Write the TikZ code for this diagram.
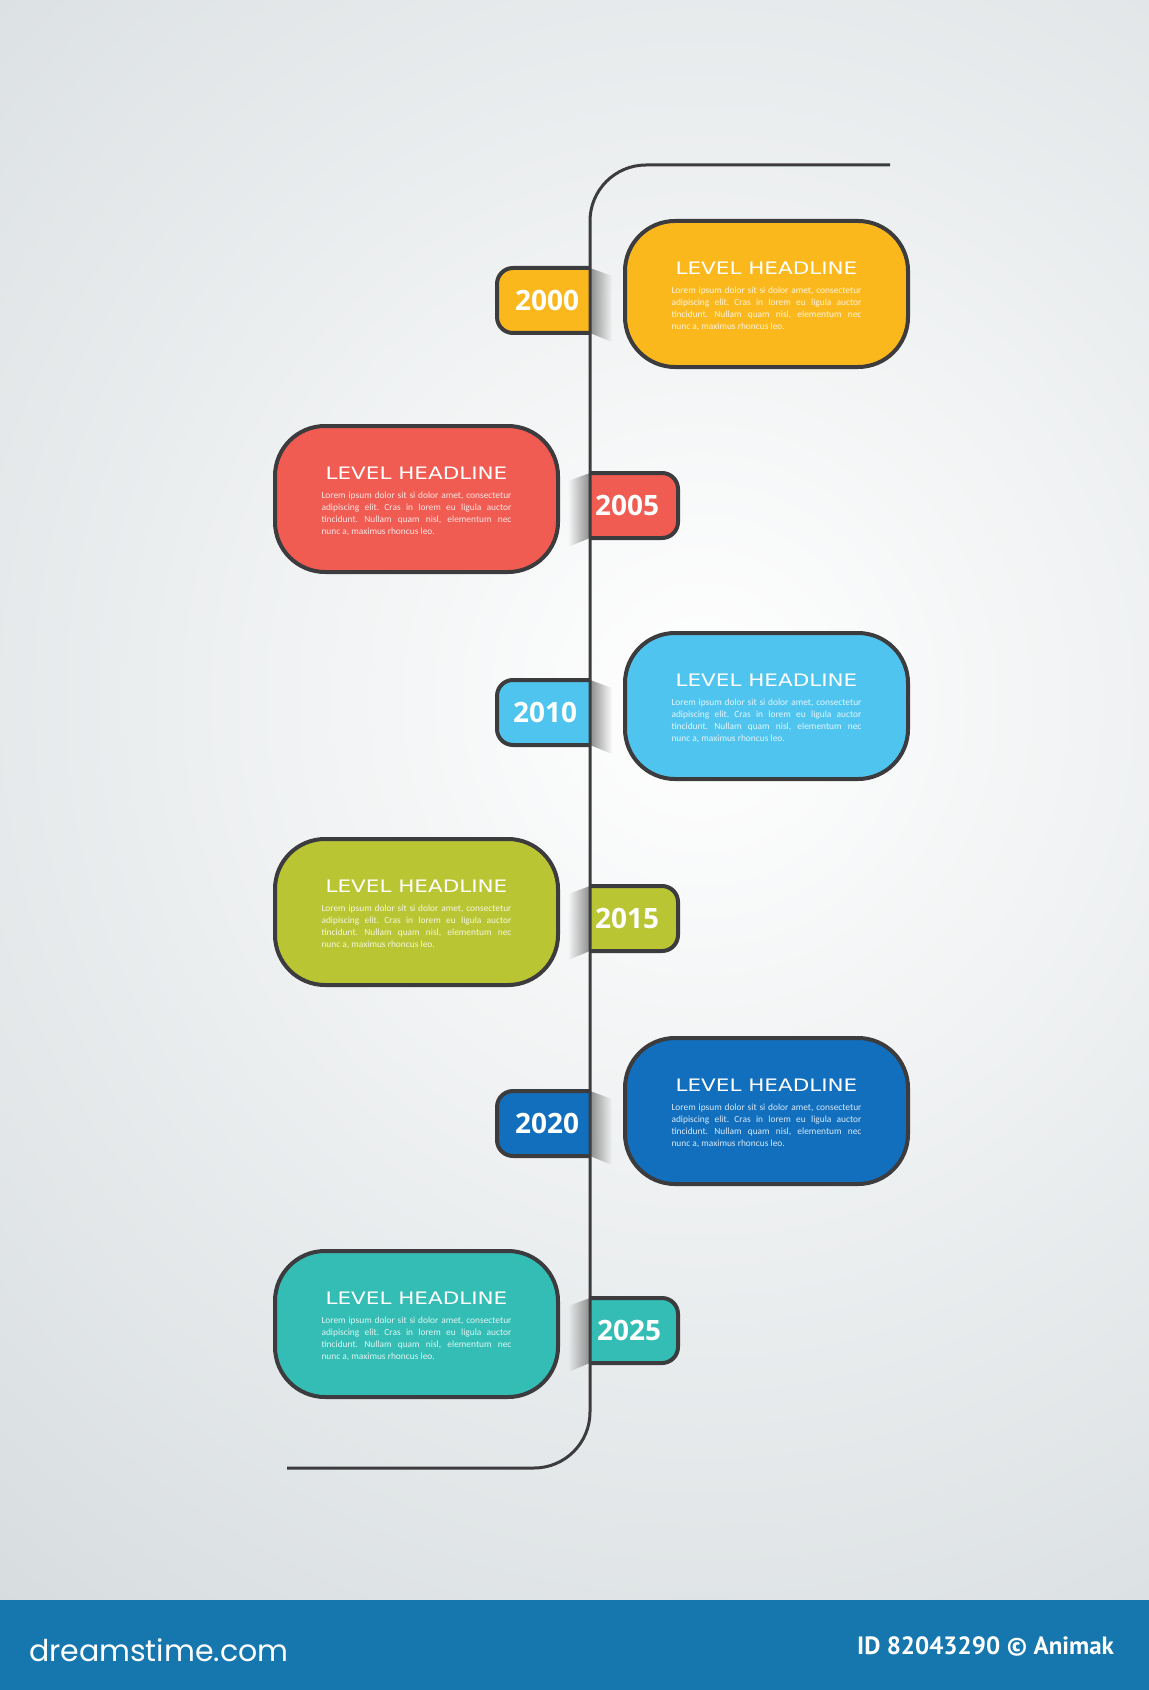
\documentclass[tikz,border=0pt]{standalone}
\usepackage{fontspec}
\usetikzlibrary{fadings}

\newfontfamily\headfont{DejaVu Sans}[FakeStretch=1.25]
\newfontfamily\yearfont{Open Sans}
\newfontfamily\bodyfont{Carlito}
\newfontfamily\sitefont{Poppins}
\newfontfamily\creditfont{PT Sans}

\definecolor{bgedge}{HTML}{CDD4D7}
\definecolor{outline}{HTML}{3C3B3D}
\definecolor{cyellow}{HTML}{FBB81D}
\definecolor{cred}{HTML}{F05B52}
\definecolor{clight}{HTML}{4FC4EF}
\definecolor{colive}{HTML}{BAC533}
\definecolor{cblue}{HTML}{116FBE}
\definecolor{cteal}{HTML}{33BDB4}
\definecolor{barblue}{HTML}{1677AE}

\newcommand{\loremtext}{\frenchspacing Lorem ipsum dolor sit si dolor amet, consectetur\linebreak adipiscing elit. Cras in lorem eu ligula auctor\linebreak tincidunt. Nullam quam nisl, elementum nec\linebreak nunc a, maximus rhoncus leo.}

\tikzset{
  box/.style={draw=outline, line width=2pt, rounded corners=25pt, minimum width=141.5pt, minimum height=73pt, inner sep=0pt},
  headline/.style={text=white, font=\headfont\fontsize{8.6}{10}\selectfont, inner sep=0pt},
  lorem/.style={text=white, text opacity=0.85, text width=95pt, align=justify, font=\bodyfont\fontsize{4.7}{6}\selectfont, inner sep=0pt},
  year/.style={text=white, font=\yearfont\bfseries\fontsize{14}{16}\selectfont, inner sep=0pt},
  tab/.style={draw=outline, line width=2pt, rounded corners=8pt},
  fold/.style={fill=black!45, path fading=east},
  foldleft/.style={fill=black!45, path fading=west},
  spine/.style={draw=outline, line width=1.5pt, rounded corners=28pt}
}

\begin{document}
\begin{tikzpicture}[x=0.5pt,y=-0.5pt]
                \useasboundingbox (0,0) rectangle (1149,1690);
                % background
                \begin{scope}
                    \clip (0,0) rectangle (1149,1600);
                    \shade[inner color=white, outer color=bgedge] (-700,-750) rectangle (2100,2150);
                \end{scope}
                \fill[barblue] (0,1600) rectangle (1149,1690);

                % fold shadows
                \fill[fold] (590,268) -- (612,276) -- (612,342) -- (590,333) -- cycle;
                \fill[foldleft] (590,473) -- (568,481) -- (568,547) -- (590,538) -- cycle;
                \fill[fold] (590,680) -- (612,688) -- (612,754) -- (590,745) -- cycle;
                \fill[foldleft] (590,886) -- (568,894) -- (568,960) -- (590,951) -- cycle;
                \fill[fold] (590,1091) -- (612,1099) -- (612,1165) -- (590,1156) -- cycle;
                \fill[foldleft] (590,1298) -- (568,1306) -- (568,1372) -- (590,1363) -- cycle;

                % year tabs
                \filldraw[tab, fill=cyellow] (590,268) -- (497,268) -- (497,333) -- (590,333);
                \filldraw[tab, fill=cred] (590,473) -- (678,473) -- (678,538) -- (590,538);
                \filldraw[tab, fill=clight] (590,680) -- (497,680) -- (497,745) -- (590,745);
                \filldraw[tab, fill=colive] (590,886) -- (678,886) -- (678,951) -- (590,951);
                \filldraw[tab, fill=cblue] (590,1091) -- (497,1091) -- (497,1156) -- (590,1156);
                \filldraw[tab, fill=cteal] (590,1298) -- (678,1298) -- (678,1363) -- (590,1363);

                \node[year] (y2000) at (547,300.5) {2000};
                \node[year] (y2005) at (627,505.5) {2005};
                \node[year] (y2010) at (545,712.5) {2010};
                \node[year] (y2015) at (627,918.5) {2015};
                \node[year] (y2020) at (547,1123.5) {2020};
                \node[year] (y2025) at (629,1330.5) {2025};

                % level boxes
                \node[box, fill=cyellow] (box2000) at (766.5,294) {};
                \node[box, fill=cred] (box2005) at (416.5,499) {};
                \node[box, fill=clight] (box2010) at (766.5,706) {};
                \node[box, fill=colive] (box2015) at (416.5,912) {};
                \node[box, fill=cblue] (box2020) at (766.5,1111) {};
                \node[box, fill=cteal] (box2025) at (416.5,1324) {};

                \node[headline] (head2000) at (766.5,268) {LEVEL HEADLINE};
                \node[headline] (head2005) at (416.5,473) {LEVEL HEADLINE};
                \node[headline] (head2010) at (766.5,680) {LEVEL HEADLINE};
                \node[headline] (head2015) at (416.5,886) {LEVEL HEADLINE};
                \node[headline] (head2020) at (766.5,1085) {LEVEL HEADLINE};
                \node[headline] (head2025) at (416.5,1298) {LEVEL HEADLINE};

                \node[lorem] (text2000) at (766.5,309) {\loremtext};
                \node[lorem] (text2005) at (416.5,514) {\loremtext};
                \node[lorem] (text2010) at (766.5,721) {\loremtext};
                \node[lorem] (text2015) at (416.5,927) {\loremtext};
                \node[lorem] (text2020) at (766.5,1126) {\loremtext};
                \node[lorem] (text2025) at (416.5,1339) {\loremtext};

                % timeline
                \coordinate (spinetop) at (890,165);
                \coordinate (bendtop) at (590,165);
                \coordinate (bendbot) at (590,1468);
                \coordinate (spinebot) at (287,1468);
                \draw[spine] (spinetop) -- (bendtop) -- (bendbot) -- (spinebot);

                % footer
                \node[anchor=west, text=white, font=\sitefont\fontsize{15}{18}\selectfont] (site) at (22,1650) {dreamstime.com};
                \node[anchor=east, text=white, font=\creditfont\bfseries\fontsize{12.5}{15}\selectfont] (credit) at (1121,1646) {ID 82043290 © Animak};
            \end{tikzpicture}
\end{document}
